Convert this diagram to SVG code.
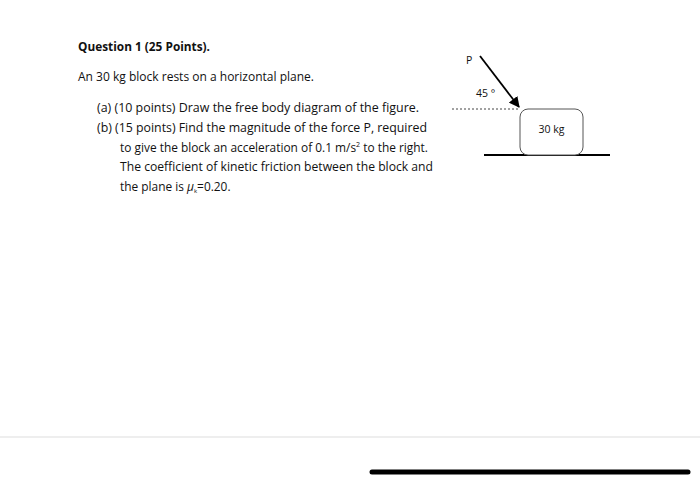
<svg xmlns="http://www.w3.org/2000/svg" width="700" height="480" viewBox="0 0 700 480">
<style>
text{font-family:"Open Sans","Liberation Sans",sans-serif;font-size:13px;fill:#111}
.s{font-size:10.5px}
.m{font-size:11.9px}
.sup{font-size:7px}
.sub{font-size:6px}
</style>
<defs><marker id="ah" viewBox="0 0 10 10" refX="9" refY="5" markerWidth="6" markerHeight="6" orient="auto"><path d="M0,0L10,5L0,10z" fill="#000"/></marker></defs>
<rect width="700" height="480" fill="#fff"/>
<text x="78" y="51" font-weight="bold" textLength="132" lengthAdjust="spacingAndGlyphs">Question 1 (25 Points).</text>
<text x="78" y="81" textLength="236" lengthAdjust="spacingAndGlyphs">An 30 kg block rests on a horizontal plane.</text>
<text x="97" y="112" textLength="322" lengthAdjust="spacingAndGlyphs">(a) (10 points) Draw the free body diagram of the figure.</text>
<text x="97" y="132" textLength="330" lengthAdjust="spacingAndGlyphs">(b) (15 points) Find the magnitude of the force P, required</text>
<text x="120" y="152" class="m">to give the block an acceleration of 0.1 m/s<tspan class="sup" dy="-5">2</tspan><tspan dy="5"> to the right.</tspan></text>
<text x="120" y="171" textLength="313" lengthAdjust="spacingAndGlyphs">The coefficient of kinetic friction between the block and</text>
<text x="120" y="191" class="m">the plane is <tspan font-style="italic">μ</tspan><tspan class="sub" dy="2">k</tspan><tspan dy="-2">=0.20.</tspan></text>
<g id="connectors">
<line x1="452" y1="109" x2="519" y2="109" stroke="#444" stroke-width="1" stroke-dasharray="2,2"/>
<line x1="480" y1="56" x2="519" y2="107" stroke="#000" stroke-width="1.8" marker-end="url(#ah)"/>
</g>
<g id="ground"><line x1="484" y1="155" x2="610" y2="155" stroke="#000" stroke-width="2"/></g>
<g id="block"><rect x="520" y="109" width="63" height="46" rx="8" fill="#fff" stroke="#555" stroke-width="1"/>
<text x="551.5" y="133" class="s" text-anchor="middle">30 kg</text></g>
<g id="labels"><text x="466" y="64" class="s">P</text><text x="476" y="97" class="s">45 °</text></g>
<line x1="0" y1="437" x2="700" y2="437" stroke="#ddd" stroke-width="1"/>
<line x1="372" y1="472" x2="688" y2="472" stroke="#000" stroke-width="5" stroke-linecap="round"/>
</svg>
